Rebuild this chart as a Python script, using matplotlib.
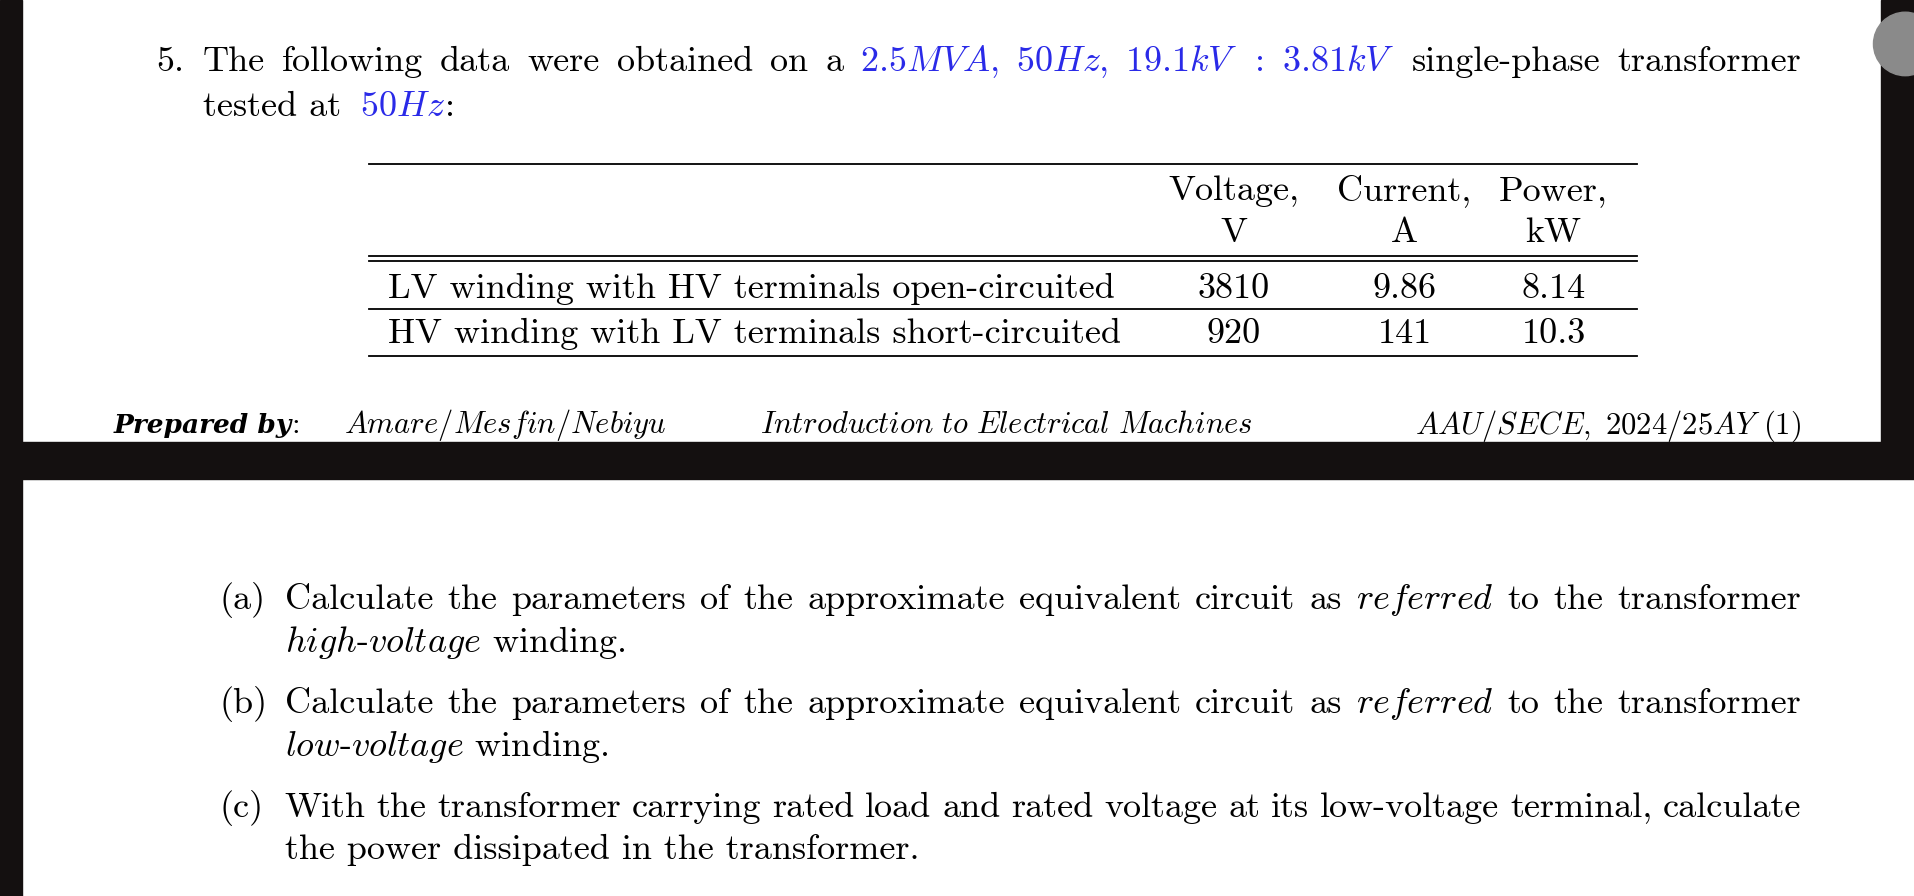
import matplotlib
matplotlib.use("Agg")
import matplotlib.pyplot as plt
from matplotlib.patches import Rectangle, Circle

plt.rcParams['mathtext.fontset'] = 'cm'
plt.rcParams['axes.formatter.use_mathtext'] = True
FONT = 'cmr10'
FS = 26
BLUE = '#2a2ae8'

header1 = ["Voltage,", "Current,", "Power,"]
header2 = ["V", "A", "kW"]
row_labels = ["LV winding with HV terminals open-circuited",
              "HV winding with LV terminals short-circuited"]
voltage = ["3810", "920"]
current = ["9.86", "141"]
power = ["8.14", "10.3"]

W, H = 1568, 734
fig = plt.figure(figsize=(19.15, 8.96), dpi=100)
ax = fig.add_axes([0, 0, 1, 1])
ax.set_xlim(0, W); ax.set_ylim(H, 0); ax.axis('off')
fig.canvas.draw()
R = fig.canvas.get_renderer()
px2u = W / 1915.0

def T(x, y, s, color='black', ha='left', fs=FS, **kw):
    kw.setdefault('fontfamily', FONT)
    return ax.text(x, y, s, color=color, ha=ha, va='baseline', fontsize=fs, **kw)

def width(s, **kw):
    t = T(0, 0, s, **kw)
    w = t.get_window_extent(R).width * px2u
    t.remove()
    return w

def justify(words, x0, x1, y):
    items = [(w, {}) if isinstance(w, str) else w for w in words]
    ws = [width(s, **k) for s, k in items]
    gap = (x1 - x0 - sum(ws)) / (len(items) - 1)
    x = x0
    for (s, k), w in zip(items, ws):
        T(x, y, s, **k)
        x += w + gap

B = {'color': BLUE}
ax.add_patch(Rectangle((0, 0), 18, H, color='#141010', zorder=5))
ax.add_patch(Rectangle((1540, 0), 28, 362, color='#141010', zorder=5))
ax.add_patch(Rectangle((0, 362), W, 30, color='#141010', zorder=5))
ax.add_patch(Circle((1560, 36), 26, color='#8a8a8a', zorder=6))

T(128, 58, "5.")
justify(["The", "following", "data", "were", "obtained", "on", "a",
         (r"$2.5MVA,$", B), (r"$50Hz,$", B), (r"$19.1kV$", B), (":", B),
         (r"$3.81kV$", B), "single-phase", "transformer"], 166, 1475, 58)
x = 166
for s, k in [("tested at ", {}), (r"$50Hz$", B), (":", {})]:
    T(x, 95, s, **k); x += width(s, **k) + (6 if s.endswith(' ') else 0)

lw = 1.3
for yy in [134, 210, 214, 253, 292]:
    ax.plot([302, 1340], [yy, yy], color='black', lw=lw)
cols = [1010, 1150, 1272]
for cx, h1, h2 in zip(cols, header1, header2):
    T(cx, 164, h1, ha='center'); T(cx, 198, h2, ha='center')
for i, yy in enumerate([244, 281]):
    T(318, yy, row_labels[i])
    for cx, v in zip(cols, [voltage[i], current[i], power[i]]):
        T(cx, yy, v, ha='center')

FF = 22
pb = dict(fontfamily='DejaVu Serif', fontweight='bold', fontstyle='italic', fs=19)
T(93, 355, "Prepared by", **pb)
T(93 + width("Prepared by", **pb), 355, ":", fs=FF)
T(282, 355, r"$\mathit{Amare/Mesfin/Nebiyu}$", fs=FF)
T(622, 355, r"$\mathit{Introduction\ to\ Electrical\ Machines}$", fs=FF)
T(1475, 355, r"$\mathit{AAU/SECE,\ 2024/25AY}$ (1)", ha='right', fs=FF)

it = lambda s: r"$\mathit{" + s + "}$"
base = ["Calculate", "the", "parameters", "of", "the", "approximate", "equivalent",
        "circuit", "as", it("referred"), "to", "the", "transformer"]
T(180, 499, "(a)"); justify(base, 233, 1475, 499)
T(233, 534, it("high") + "-" + it("voltage") + " winding.")
T(180, 584, "(b)"); justify(base, 233, 1475, 584)
T(233, 619, it("low") + "-" + it("voltage") + " winding.")
T(180, 669, "(c)")
justify("With the transformer carrying rated load and rated voltage at its low-voltage terminal, calculate".split(),
        233, 1475, 669)
T(233, 704, "the power dissipated in the transformer.")

fig.savefig("out.png", dpi=100, facecolor='white')
